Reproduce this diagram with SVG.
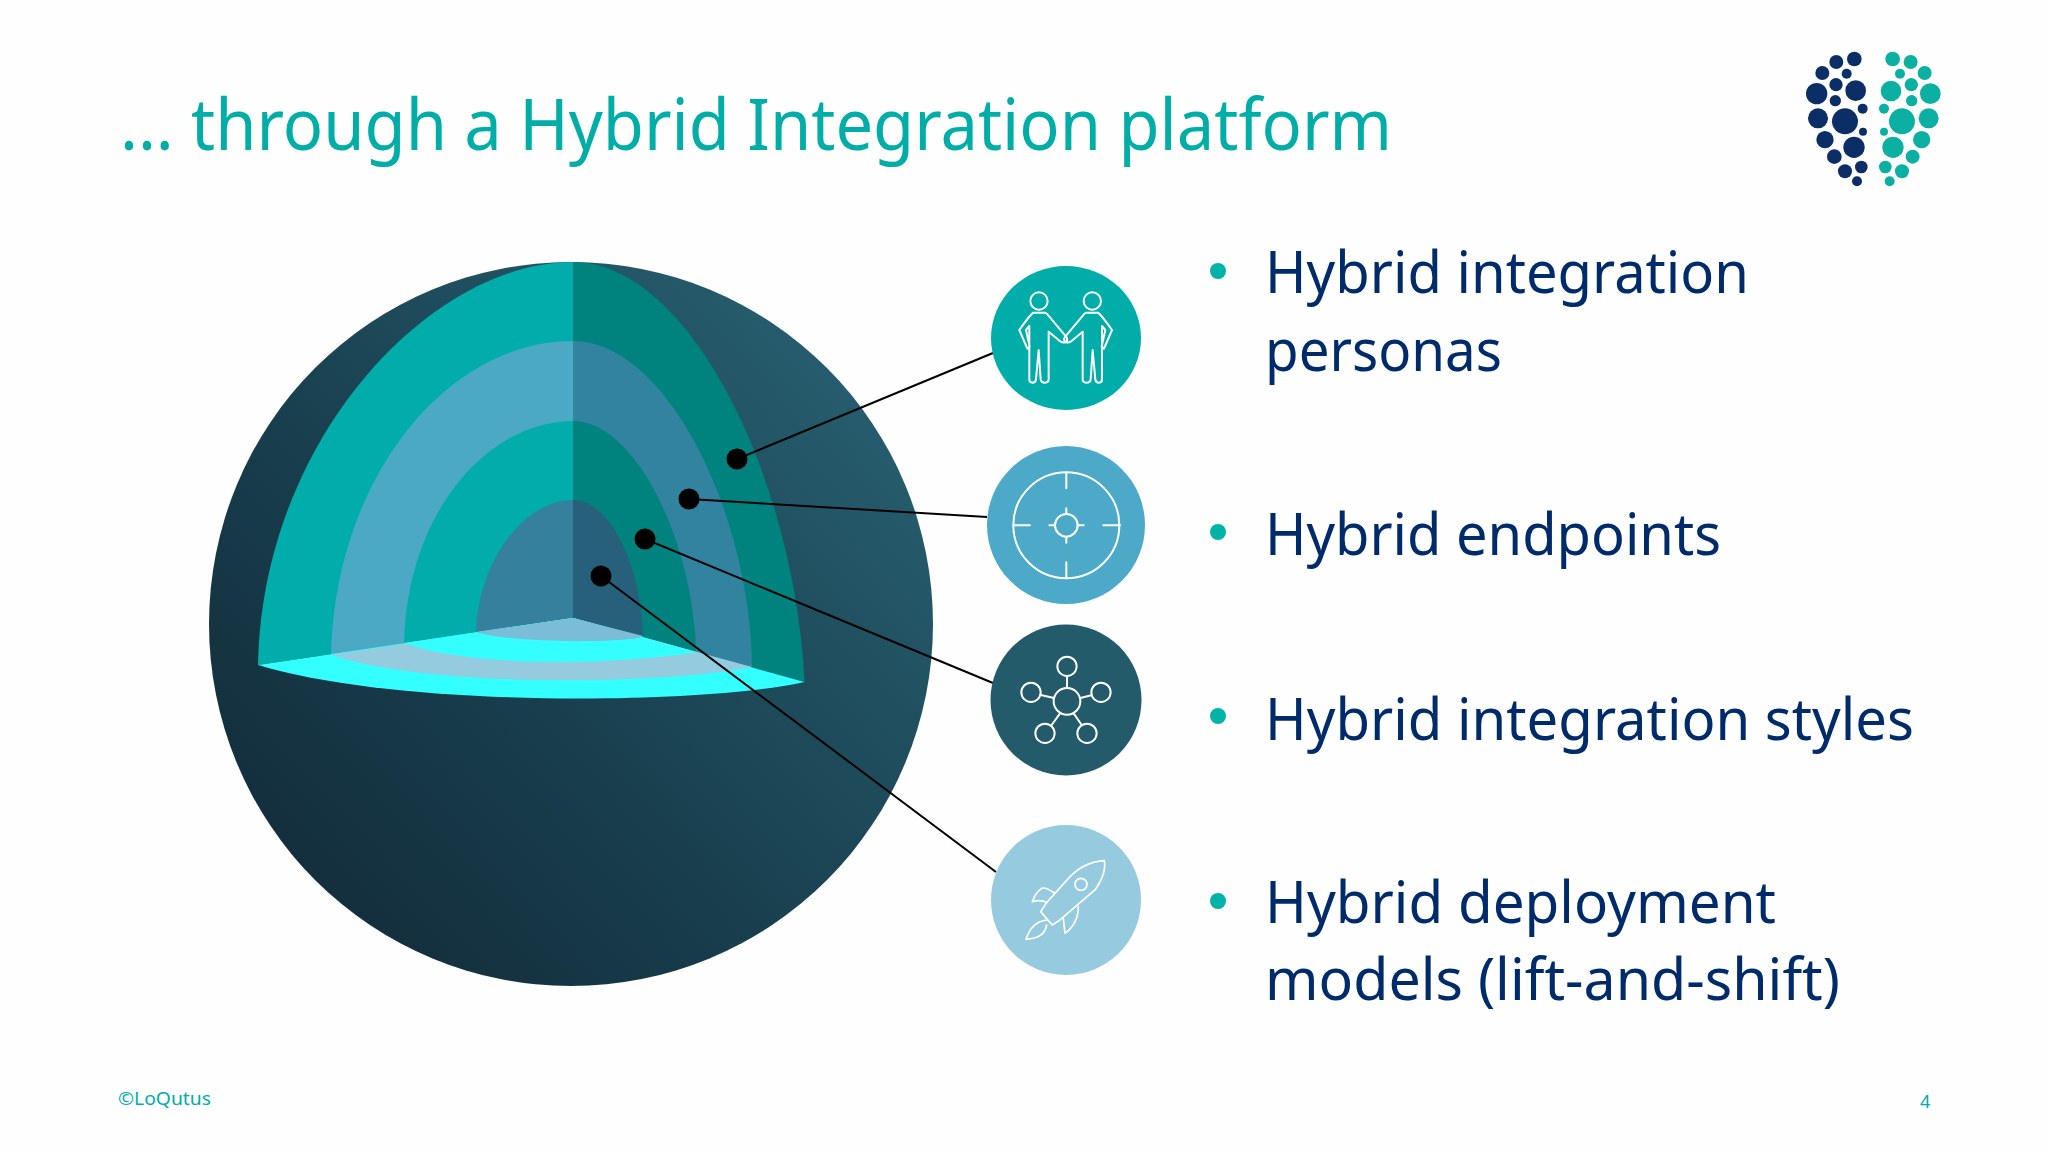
<svg xmlns="http://www.w3.org/2000/svg" xmlns:xlink="http://www.w3.org/1999/xlink" width="2048" height="1152" viewBox="0 0 2048 1152">
<style>
.t{font-family:"Noto Sans","Open Sans",sans-serif;font-variant-ligatures:none}
.title{font-size:72px;fill:#00ADA7}
.b{font-size:59px;fill:#002B6A}
.f{font-size:18px;fill:#00ADA7}
.dot{fill:#00B3A9}
.ico{fill:none;stroke:#fff;stroke-width:2;stroke-linecap:round;stroke-linejoin:round}
.conn{stroke:#000;stroke-width:2;fill:none}
.n{fill:#0C2E66}.g{fill:#0BB0A3}
</style>
<defs>
<linearGradient id="sph" gradientUnits="userSpaceOnUse" x1="260" y1="980" x2="880" y2="400">
<stop offset="0" stop-color="#122936"/><stop offset="0.4" stop-color="#173B4A"/><stop offset="1" stop-color="#265D6E"/>
</linearGradient>
</defs>
<rect width="2048" height="1152" fill="#fefefe"/>
<text class="t title" x="120" y="150" textLength="1272" lengthAdjust="spacingAndGlyphs">... through a Hybrid Integration platform</text>

<g id="logo" transform="translate(1780,30) scale(0.3333)">
<g class="n"><circle cx="223" cy="87" r="22"/><circle cx="169" cy="96" r="21"/><circle cx="127" cy="129" r="21"/><circle cx="200" cy="131" r="15"/><circle cx="168" cy="164" r="20"/><circle cx="110" cy="191" r="32"/><circle cx="227" cy="182" r="31"/><circle cx="166" cy="212" r="17"/><circle cx="248" cy="236" r="15"/><circle cx="114" cy="265" r="30"/><circle cx="195" cy="274" r="39"/><circle cx="249" cy="305" r="12"/><circle cx="135" cy="329" r="26"/><circle cx="222" cy="352" r="32"/><circle cx="163" cy="380" r="22"/><circle cx="195" cy="424" r="21"/><circle cx="244" cy="411" r="19"/><circle cx="231" cy="454" r="15"/></g>
<g class="g"><circle cx="338" cy="87" r="22"/><circle cx="392" cy="96" r="21"/><circle cx="434" cy="129" r="21"/><circle cx="360" cy="131" r="15"/><circle cx="394" cy="164" r="20"/><circle cx="333" cy="183" r="31"/><circle cx="451" cy="191" r="31"/><circle cx="395" cy="212" r="17"/><circle cx="312" cy="236" r="15"/><circle cx="446" cy="265" r="30"/><circle cx="366" cy="274" r="39"/><circle cx="312" cy="305" r="12"/><circle cx="425" cy="329" r="26"/><circle cx="339" cy="352" r="32"/><circle cx="398" cy="380" r="21"/><circle cx="316" cy="411" r="19"/><circle cx="366" cy="424" r="21"/><circle cx="329" cy="454" r="15"/></g>
</g>

<g id="sphere">
<circle cx="571" cy="624" r="362" fill="url(#sph)"/>
<path d="M258,665 C262,440 430,262 573,262 L573,618 Z" fill="#00ADAB"/>
<path d="M573,262 C690,262 795,480 804.500,682 L573,618 Z" fill="#00837E"/>
<path d="M331,655 C335,480 445,341 573,341 L573,618 Z" fill="#4CA9C6"/>
<path d="M573,341 C665,341 750,510 752,667 L573,618 Z" fill="#32839F"/>
<path d="M404,643 C407,510 490,421 573,421 L573,618 Z" fill="#00ADAB"/>
<path d="M573,421 C635,421 693,540 696,652 L573,618 Z" fill="#00837E"/>
<path d="M476,632 C478,560 525,500 573,500 L573,618 Z" fill="#35809C"/>
<path d="M573,500 C610,500 641,565 643,636 L573,618 Z" fill="#27607A"/>
<path d="M258,665 L573,618 L804.500,682 C700,705 400,708 258,665 Z" fill="#33FFFF"/>
<path d="M331,655 L573,618 L752,667 C660,685 430,688 331,655 Z" fill="#95CBDF"/>
<path d="M404,643 L573,618 L696,652 C620,665 470,668 404,643 Z" fill="#33FFFF"/>
<path d="M476,632 L573,618 L643,636 C642,642 518,645 476,632 Z" fill="#7BBDD6"/>
</g>

<g id="connectors">
<line class="conn" x1="737" y1="459" x2="993" y2="353"/>
<line class="conn" x1="689" y1="499" x2="987" y2="517"/>
<line class="conn" x1="645" y1="539" x2="993" y2="683"/>
<line class="conn" x1="601" y1="576" x2="996" y2="872"/>
<circle cx="737" cy="459" r="10.500"/>
<circle cx="689" cy="499" r="10.500"/>
<circle cx="645" cy="539" r="10.500"/>
<circle cx="601" cy="576" r="10.500"/>
</g>

<g id="node-personas">
<ellipse cx="1066" cy="338" rx="75" ry="72" fill="#00ADA8"/>
<g class="ico" transform="translate(970,250) scale(0.3333)" style="stroke-width:6">
<circle cx="207" cy="153" r="26"/><circle cx="367" cy="153" r="26"/>
<path id="pl" d="M190,188 H225 Q232,190 238,200 L290,262 Q294,270 288,276 Q280,280 272,275 L236,245 V388 Q236,398 225,398 Q213,398 212,388 L206,300 L198,388 Q197,398 187,398 Q178,398 178,388 V228 L168,240 L179,290 L172,296 L148,240 Q180,195 190,188 Z"/>
<use xlink:href="#pl" href="#pl" transform="translate(574,0) scale(-1,1)"/>
</g>
</g>

<g id="node-endpoints">
<circle cx="1066" cy="525" r="79" fill="#4CA9C8"/>
<g class="ico" transform="translate(970,250) scale(0.3333)" style="stroke-width:6">
<circle cx="289" cy="826" r="159"/>
<circle cx="289" cy="826" r="34"/>
<path d="M289,668 V715 M289,937 V985 M130,826 H180 M400,826 H450 M289,775 V792 M289,860 V878 M238,826 H255 M323,826 H341"/>
</g>
</g>

<g id="node-styles">
<circle cx="1066" cy="700" r="75.500" fill="#245B6B"/>
<g class="ico" transform="translate(970,610) scale(0.3333)" style="stroke-width:6">
<circle cx="291" cy="274" r="40"/><circle cx="291" cy="169" r="29"/><circle cx="183" cy="247" r="29"/><circle cx="393" cy="247" r="29"/><circle cx="225" cy="370" r="29"/><circle cx="351" cy="370" r="29"/>
<path d="M291,198 V234 M212,255 L252,264 M364,256 L331,264 M245,345 L270,310 M335,345 L311,310"/>
</g>
</g>

<g id="node-deployment">
<circle cx="1066" cy="900" r="75" fill="#96CADE"/>
<g class="ico" transform="translate(970,610) scale(0.3333)" style="stroke-width:5">
<path d="M403,752 Q345,755 300,800 L230,878 L212,905 L247,945 L270,930 L375,840 Q410,790 403,752 Z"/>
<path d="M255,850 Q225,830 215,835 Q195,850 187,875 Q215,868 230,878"/>
<path d="M325,890 Q325,940 285,970 L280,925"/>
<path d="M230,930 Q185,935 168,988 Q225,985 230,945"/>
<circle cx="333" cy="823" r="18"/>
</g>
</g>

<g id="list">
<circle class="dot" cx="1218" cy="271" r="8"/>
<text class="t b" x="1265" y="293" textLength="484" lengthAdjust="spacingAndGlyphs">Hybrid integration</text>
<text class="t b" x="1265" y="371" textLength="237" lengthAdjust="spacingAndGlyphs">personas</text>
<circle class="dot" cx="1218" cy="532" r="8"/>
<text class="t b" x="1265" y="555" textLength="456" lengthAdjust="spacingAndGlyphs">Hybrid endpoints</text>
<circle class="dot" cx="1218" cy="716" r="8"/>
<text class="t b" x="1265" y="740" textLength="649" lengthAdjust="spacingAndGlyphs">Hybrid integration styles</text>
<circle class="dot" cx="1218" cy="901" r="8"/>
<text class="t b" x="1265" y="923" textLength="511" lengthAdjust="spacingAndGlyphs">Hybrid deployment</text>
<text class="t b" x="1265" y="1000" textLength="575" lengthAdjust="spacingAndGlyphs">models (lift-and-shift)</text>
</g>
<text class="t f" x="118" y="1105" textLength="93" lengthAdjust="spacingAndGlyphs">©LoQutus</text>
<text class="t f" x="1920" y="1108">4</text>
</svg>
